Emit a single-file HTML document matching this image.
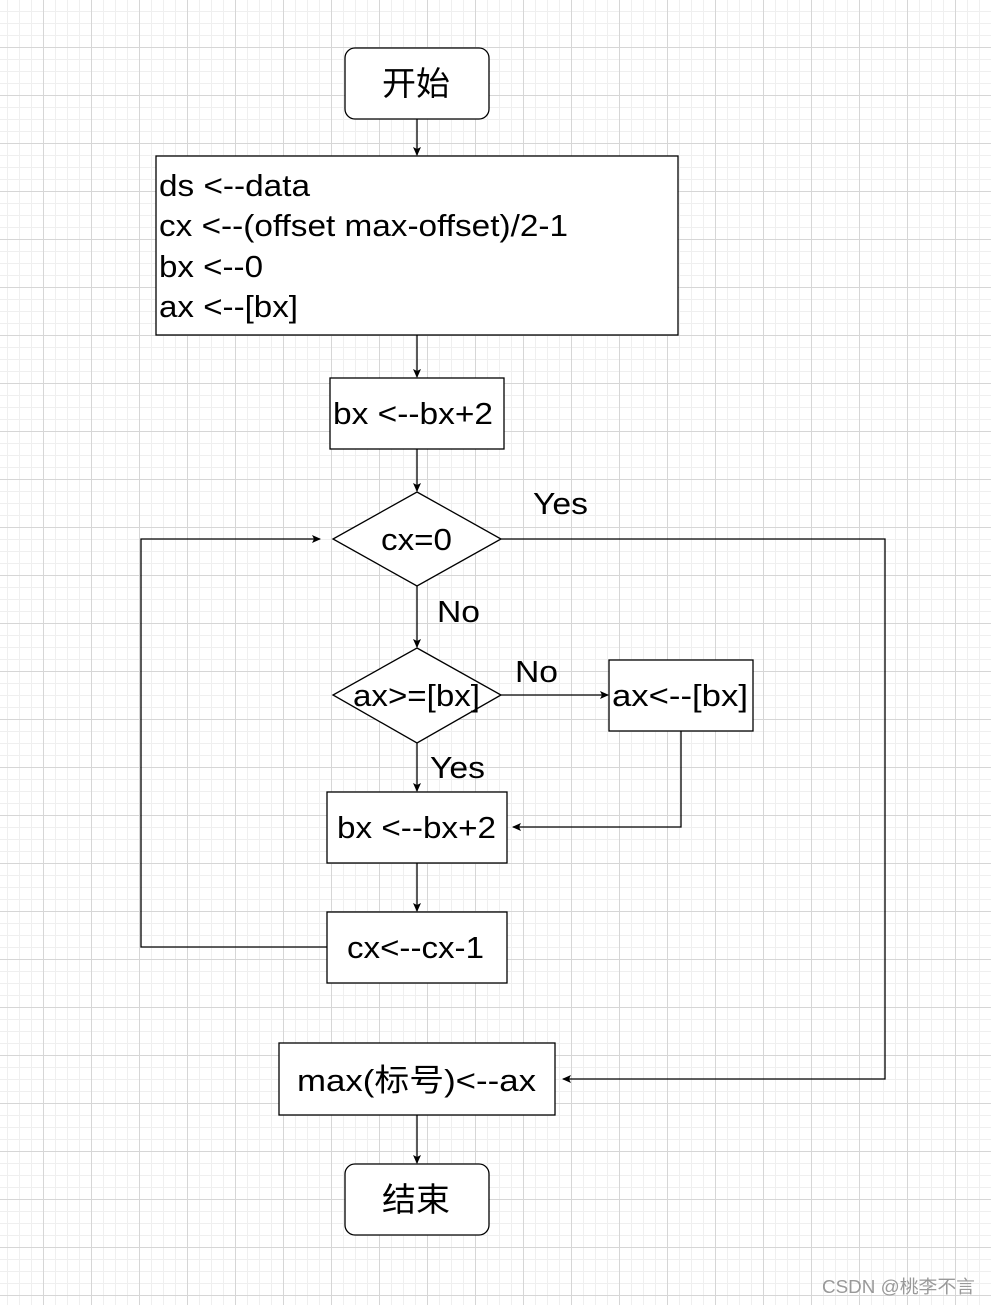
<!DOCTYPE html>
<html><head><meta charset="utf-8"><style>
html,body{margin:0;padding:0;width:991px;height:1305px;overflow:hidden;background:#fff}
.bg{position:absolute;left:0;top:0;width:991px;height:1305px;
background-image:
linear-gradient(to right,#d6d6d6 1px,transparent 1px),
linear-gradient(to bottom,#d6d6d6 1px,transparent 1px),
linear-gradient(to right,#efefef 1px,transparent 1px),
linear-gradient(to bottom,#efefef 1px,transparent 1px);
background-size:48px 48px,48px 48px,12px 12px,12px 12px;
background-position:43px 47px,43px 47px,7px 11px,7px 11px;}
svg{position:absolute;left:0;top:0}
text{font-family:"Liberation Sans","Noto Sans CJK SC",sans-serif;fill:#000}
</style></head><body>
<div class="bg"></div>
<svg width="991" height="1305" viewBox="0 0 991 1305">
<defs><marker id="a" markerWidth="10" markerHeight="10" refX="9" refY="5" orient="auto" markerUnits="userSpaceOnUse"><path d="M1,1 L10,5 L1,9 L3,5 Z" fill="#000"/></marker></defs>
<g stroke="#000" stroke-width="1.3" fill="#fff">
<rect x="345" y="48" width="144" height="71" rx="10"/>
<rect x="156" y="156" width="522" height="179"/>
<rect x="330" y="378" width="174" height="71"/>
<polygon points="417,492 501,539 417,586 333,539"/>
<polygon points="417,648 501,695 417,743 333,695"/>
<rect x="609" y="660" width="144" height="71"/>
<rect x="327" y="792" width="180" height="71"/>
<rect x="327" y="912" width="180" height="71"/>
<rect x="279" y="1043" width="276" height="72"/>
<rect x="345" y="1164" width="144" height="71" rx="10"/>
</g>
<g stroke="#000" stroke-width="1.3" fill="none">
<line x1="417" y1="119" x2="417" y2="155" marker-end="url(#a)"/>
<line x1="417" y1="335" x2="417" y2="377" marker-end="url(#a)"/>
<line x1="417" y1="449" x2="417" y2="491" marker-end="url(#a)"/>
<polyline points="501,539 885,539 885,1079 563,1079" marker-end="url(#a)"/>
<line x1="417" y1="586" x2="417" y2="647" marker-end="url(#a)"/>
<line x1="501" y1="695" x2="608" y2="695" marker-end="url(#a)"/>
<polyline points="681,731 681,827 513,827" marker-end="url(#a)"/>
<line x1="417" y1="743" x2="417" y2="791" marker-end="url(#a)"/>
<line x1="417" y1="863" x2="417" y2="911" marker-end="url(#a)"/>
<polyline points="327,947 141,947 141,539 320,539" marker-end="url(#a)"/>
<line x1="417" y1="1115" x2="417" y2="1163" marker-end="url(#a)"/>
</g>
<g font-size="31" lengthAdjust="spacingAndGlyphs">
<text x="382" y="95" font-size="33" textLength="68" lengthAdjust="spacingAndGlyphs">开始</text>
<text x="159" y="196" textLength="151" lengthAdjust="spacingAndGlyphs">ds &lt;--data</text>
<text x="159" y="236" textLength="409" lengthAdjust="spacingAndGlyphs">cx &lt;--(offset max-offset)/2-1</text>
<text x="159" y="277" textLength="104" lengthAdjust="spacingAndGlyphs">bx &lt;--0</text>
<text x="159" y="317" textLength="139" lengthAdjust="spacingAndGlyphs">ax &lt;--[bx]</text>
<text x="333" y="424" textLength="160" lengthAdjust="spacingAndGlyphs">bx &lt;--bx+2</text>
<text x="381" y="550" textLength="71" lengthAdjust="spacingAndGlyphs">cx=0</text>
<text x="533" y="514" textLength="55" lengthAdjust="spacingAndGlyphs">Yes</text>
<text x="437" y="622" textLength="43" lengthAdjust="spacingAndGlyphs">No</text>
<text x="353" y="706" textLength="127" lengthAdjust="spacingAndGlyphs">ax&gt;=[bx]</text>
<text x="515" y="682" textLength="43" lengthAdjust="spacingAndGlyphs">No</text>
<text x="612" y="706" textLength="136" lengthAdjust="spacingAndGlyphs">ax&lt;--[bx]</text>
<text x="430" y="778" textLength="55" lengthAdjust="spacingAndGlyphs">Yes</text>
<text x="337" y="838" textLength="159" lengthAdjust="spacingAndGlyphs">bx &lt;--bx+2</text>
<text x="347" y="958" textLength="137" lengthAdjust="spacingAndGlyphs">cx&lt;--cx-1</text>
<text x="297" y="1091" textLength="239" lengthAdjust="spacingAndGlyphs">max(标号)&lt;--ax</text>
<text x="382" y="1211" font-size="33" textLength="68" lengthAdjust="spacingAndGlyphs">结束</text>
</g>
<text x="822" y="1293" font-size="18" textLength="153" lengthAdjust="spacingAndGlyphs" style="fill:#999">CSDN @桃李不言</text>
</svg>
</body></html>
